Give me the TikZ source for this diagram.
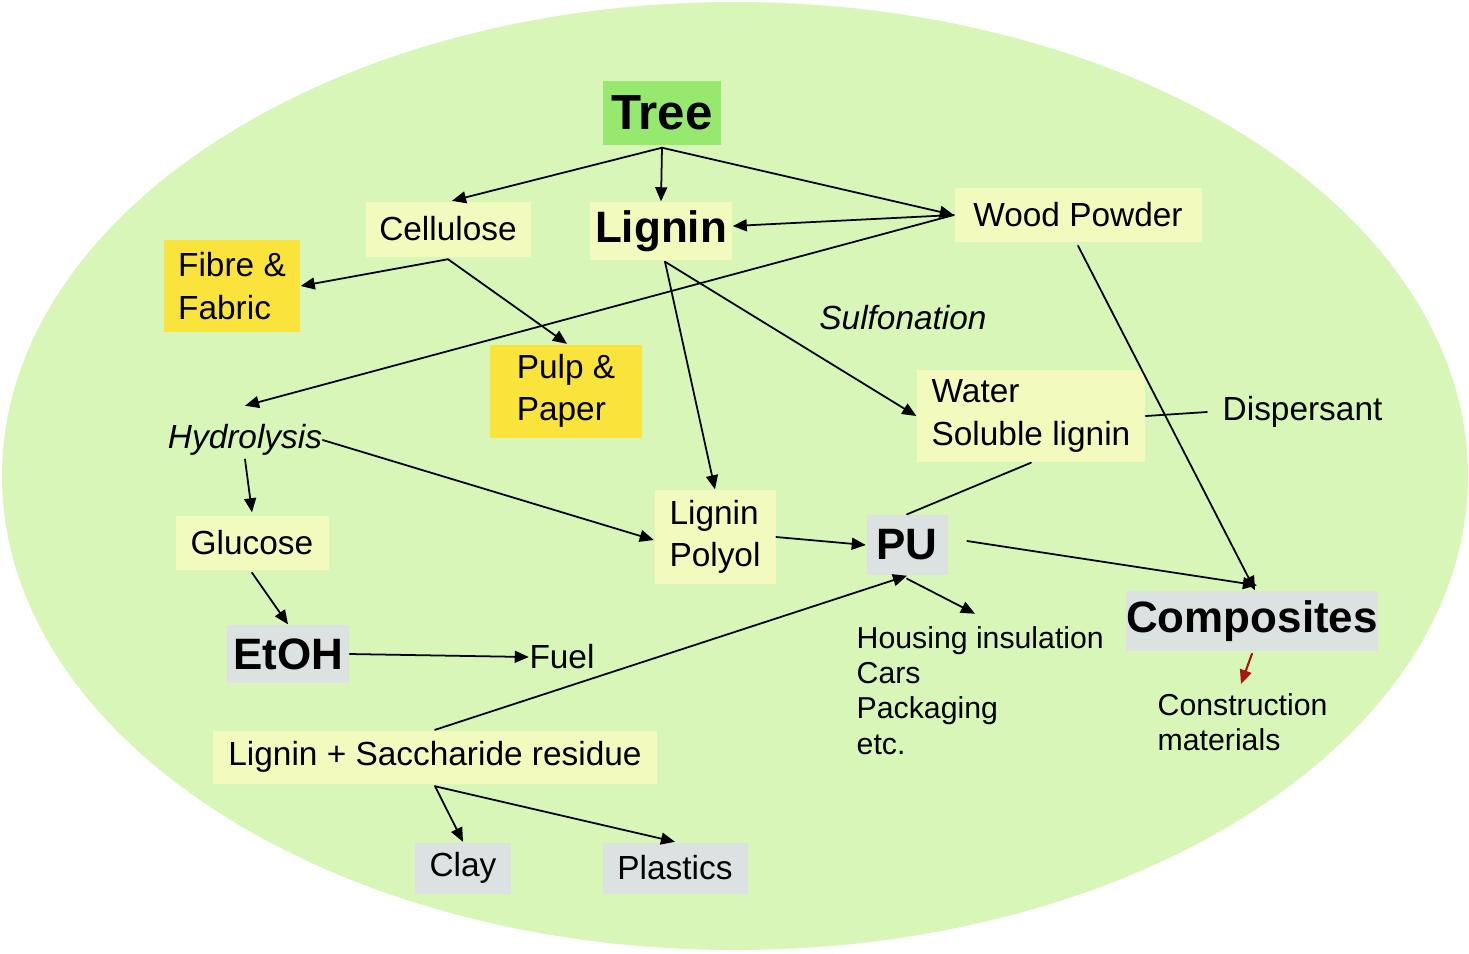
\documentclass[tikz,border=0pt]{standalone}
\usepackage{fontspec}
\setmainfont{Liberation Sans}
\usetikzlibrary{arrows.meta,positioning}
\definecolor{bggreen}{RGB}{216,246,184}
\definecolor{paleyellow}{RGB}{242,250,190}
\definecolor{treegreen}{RGB}{150,232,110}
\definecolor{goldbox}{RGB}{250,228,60}
\definecolor{greybox}{RGB}{220,226,226}
\definecolor{darkred}{RGB}{170,20,20}
\newdimen\pxu \pxu=0.01cm

\begin{document}
\begin{tikzpicture}[x=0.01cm,y=-0.01cm,line cap=round,line join=round,
    >={Triangle[length=4pt,width=3.4pt]},
    box/.style={inner sep=0pt,align=left,font=\fontsize{9.5}{12}\selectfont},
    pale/.style={box,fill=paleyellow},
    gold/.style={box,fill=goldbox},
    grey/.style={box,fill=greybox},
    big/.style={font=\fontsize{12.5}{15}\bfseries\selectfont},
    flow/.style={->,line width=0.5pt}]

		% background
		\useasboundingbox (0,0) rectangle (1469,953);
		\fill [bggreen] (735,476) ellipse [x radius=733, y radius=474];

		% boxes
		\node [box,fill=treegreen,font=\fontsize{14}{16}\bfseries\selectfont,minimum width=118\pxu,minimum height=64\pxu] (tree) at (662,113) {Tree};
		\node [pale,minimum width=165\pxu,minimum height=55\pxu] (cell) at (448,229) {Cellulose};
		\node [pale,big,minimum width=142\pxu,minimum height=58\pxu] (lig) at (661,231) {Lignin};
		\node [pale,minimum width=247\pxu,minimum height=54\pxu] (wood) at (1078,215) {Wood Powder};
		\node [gold,minimum width=136\pxu,minimum height=92\pxu] (fibre) at (232,286) {Fibre \&\\Fabric};
		\node [gold,minimum width=152\pxu,minimum height=93\pxu] (pulp) at (566,391) {Pulp \&\\Paper};
		\node [pale,minimum width=228\pxu,minimum height=92\pxu] (water) at (1031,416) {Water\\Soluble lignin};
		\node [pale,minimum width=153\pxu,minimum height=54\pxu] (gluc) at (252,543) {Glucose};
		\node [pale,minimum width=121\pxu,minimum height=94\pxu] (poly) at (715,537) {Lignin\\Polyol};
		\node [grey,big,minimum width=81\pxu,minimum height=60\pxu] (pu) at (907,545) {PU};
		\node [grey,big,minimum width=245\pxu,minimum height=60\pxu] (comp) at (1252,621) {Composites};
		\node [grey,big,minimum width=122\pxu,minimum height=58\pxu] (etoh) at (288,654) {EtOH};
		\node [pale,minimum width=444\pxu,minimum height=53\pxu] (resid) at (435,757) {Lignin + Saccharide residue};
		\node [grey,minimum width=96\pxu,minimum height=51\pxu] (clay) at (463,868) {Clay};
		\node [grey,minimum width=145\pxu,minimum height=51\pxu] (plast) at (675,868) {Plastics};

		% plain texts
		\node [box,font=\fontsize{9.5}{12}\itshape\selectfont] (sulf) at (903,318) {Sulfonation};
		\node [box,font=\fontsize{9.5}{12}\itshape\selectfont] (hydro) at (245,440) {Hydrolysis};
		\node [box,anchor=west] (disp) at (1222,412) {Dispersant};
		\node [box] (fuel) at (562,657) {Fuel};
		\node [box,anchor=north west,font=\fontsize{8.6}{10}\selectfont] (uses) at (856,626) {Housing insulation\\Cars\\Packaging\\etc.};
		\node [box,anchor=north west,font=\fontsize{8.6}{10}\selectfont] (constr) at (1157,693) {Construction\\materials};

		% connectors
		\coordinate (t0) at ([yshift=-2\pxu]tree.south);
		\coordinate (cm) at (1241,684);
		\draw [flow] (t0)--([xshift=4\pxu]cell.north);
		\draw [flow] (t0)--(lig.north);
		\draw [flow] (t0)--(wood.west);
		\draw [flow] (wood.west)--([yshift=5\pxu]lig.east);
		\draw [flow] (wood.west)--([yshift=18\pxu]hydro.north);
		\draw [flow] ([yshift=-2\pxu]cell.south)--(fibre.east);
		\draw [flow] ([yshift=-2\pxu]cell.south)--([xshift=1\pxu]pulp.north);
		\draw [flow] ([xshift=4\pxu,yshift=-1\pxu]lig.south)--(poly.north);
		\draw [flow] ([xshift=4\pxu,yshift=-1\pxu]lig.south)--(water.west);
		\draw [flow] ([yshift=-3\pxu]wood.south)--([xshift=3\pxu]comp.north);
		\draw [line width=0.5pt] (water.south)--(pu.north);
		\draw [line width=0.5pt] (water.east)--([xshift=-15\pxu]disp.west);
		\draw [flow] (hydro.east)--([yshift=-3\pxu]poly.west);
		\draw [flow] ([yshift=-3\pxu]hydro.south)--([yshift=3\pxu]gluc.north);
		\draw [flow] ([yshift=-2\pxu]gluc.south)--(etoh.north);
		\draw [flow] (etoh.east)--(fuel.west);
		\draw [flow] (poly.east)--(pu.west);
		\draw [flow] ([xshift=19\pxu,yshift=4\pxu]pu.east)--([xshift=5\pxu,yshift=5\pxu]comp.north);
		\draw [flow] ([yshift=-3\pxu]pu.south)--([xshift=68\pxu,yshift=-38\pxu]pu.south);
		\draw [flow] (resid.north)--(pu.south);
		\draw [->,line width=0.6pt,darkred] ([yshift=-2\pxu]comp.south)--(cm);
		\draw [flow] ([yshift=-2\pxu]resid.south)--(clay.north);
		\draw [flow] ([yshift=-2\pxu]resid.south)--(plast.north);
\end{tikzpicture}
\end{document}
